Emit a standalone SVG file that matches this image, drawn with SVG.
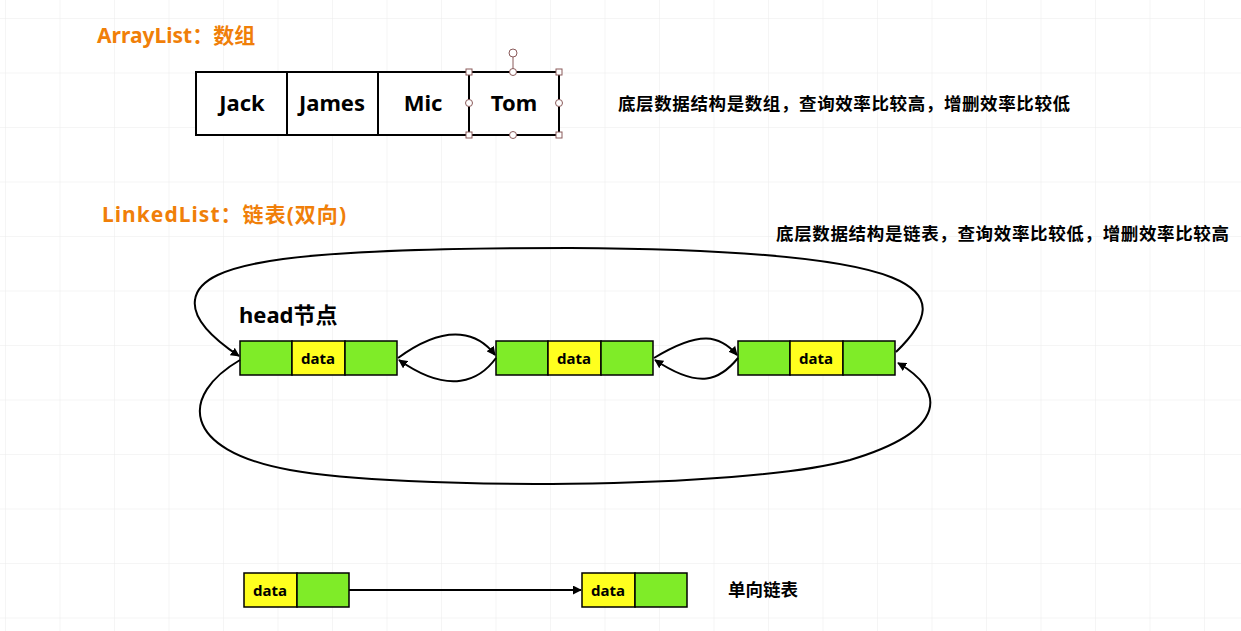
<svg xmlns="http://www.w3.org/2000/svg" width="1241" height="631" viewBox="0 0 1241 631">
<defs>
<pattern id="grid" x="6" y="19" width="54.5" height="54.5" patternUnits="userSpaceOnUse"><path d="M54.5 0V54.5H0" fill="none" stroke="#ececec" stroke-width="1"/></pattern>
<marker id="ar" viewBox="0 0 10 10" refX="9" refY="5" markerWidth="9" markerHeight="9" orient="auto-start-reverse" markerUnits="userSpaceOnUse"><path d="M0 0L10 5L0 10z" fill="#000"/></marker>
</defs>
<style>
.t{font-family:"Noto Sans","Noto Sans CJK SC",sans-serif;font-weight:bold}
.h{fill:#f07f09;font-size:21px}
.cell{fill:#fff;stroke:#000;stroke-width:2}
.g{fill:#7fec28;stroke:#000;stroke-width:1.5}
.y{fill:#ffff1e;stroke:#000;stroke-width:1.5}
.d{font-size:15px;text-anchor:middle}
.n{font-size:17.5px}
.c{fill:none;stroke:#000;stroke-width:2}
</style>
<rect width="1241" height="631" fill="#fff"/>
<rect width="1241" height="631" fill="url(#grid)"/>
<text class="t h" x="97" y="43">ArrayList：数组</text>
<text class="t h" x="102" y="222" textLength="244">LinkedList：链表(双向)</text>
<g id="array">
<rect class="cell" x="196" y="72" width="91" height="63"/>
<rect class="cell" x="287" y="72" width="91" height="63"/>
<rect class="cell" x="378" y="72" width="91" height="63"/>
<rect class="cell" x="469" y="72" width="90" height="63"/>
<g class="t" font-size="22" text-anchor="middle">
<text x="242" y="111">Jack</text><text x="332" y="111">James</text><text x="423" y="111">Mic</text><text x="514" y="111">Tom</text>
</g>
<g fill="#fff" stroke="#8a5a5a" stroke-width="1">
<line x1="513" y1="53" x2="513" y2="72"/>
<circle cx="513" cy="53" r="4"/>
<rect x="466" y="69" width="6" height="6"/><rect x="556" y="69" width="6" height="6"/>
<rect x="466" y="132" width="6" height="6"/><rect x="556" y="132" width="6" height="6"/>
<circle cx="513" cy="72" r="3.5"/><circle cx="513" cy="135" r="3.5"/>
<circle cx="469" cy="103" r="3.5"/><circle cx="559" cy="103" r="3.5"/>
</g>
</g>
<text class="t n" x="618" y="110" textLength="452">底层数据结构是数组，查询效率比较高，增删效率比较低</text>
<text class="t n" x="776" y="240" textLength="453">底层数据结构是链表，查询效率比较低，增删效率比较高</text>
<text class="t" font-size="22" x="239" y="323">head节点</text>
<g id="node1"><rect class="g" x="240" y="341" width="52" height="34"/><rect class="y" x="292" y="341" width="53" height="34"/><rect class="g" x="345" y="341" width="52" height="34"/><text class="t d" x="318" y="364">data</text></g>
<g id="node2"><rect class="g" x="496" y="341" width="52" height="34"/><rect class="y" x="548" y="341" width="53" height="34"/><rect class="g" x="601" y="341" width="52" height="34"/><text class="t d" x="574" y="364">data</text></g>
<g id="node3"><rect class="g" x="738" y="341" width="52" height="34"/><rect class="y" x="790" y="341" width="53" height="34"/><rect class="g" x="843" y="341" width="52" height="34"/><text class="t d" x="816" y="364">data</text></g>
<g id="node4"><rect class="y" x="244" y="573" width="53" height="34"/><rect class="g" x="297" y="573" width="52" height="34"/><text class="t d" x="270" y="596">data</text></g>
<g id="node5"><rect class="y" x="582" y="573" width="53" height="34"/><rect class="g" x="635" y="573" width="52" height="34"/><text class="t d" x="608" y="596">data</text></g>
<text class="t" font-size="17.5" x="728" y="596">单向链表</text>
<g id="connectors">
<path class="c" marker-end="url(#ar)" d="M398 358C450 320 480 335 495 355"/>
<path class="c" marker-start="url(#ar)" d="M399 360C450 396 480 380 496 358"/>
<path class="c" marker-end="url(#ar)" d="M654 358C700 330 720 335 737 355"/>
<path class="c" marker-start="url(#ar)" d="M655 360C700 390 720 380 738 358"/>
<path class="c" marker-end="url(#ar)" d="M896 352C960 290 930 250 570 248C300 248 200 260 195 300C192 320 215 340 239 356"/>
<path class="c" marker-end="url(#ar)" d="M240 360C180 395 180 450 290 470C400 490 740 490 850 460C950 430 945 390 898 363"/>
<path class="c" marker-end="url(#ar)" d="M349 590H581"/>
</g>
</svg>
